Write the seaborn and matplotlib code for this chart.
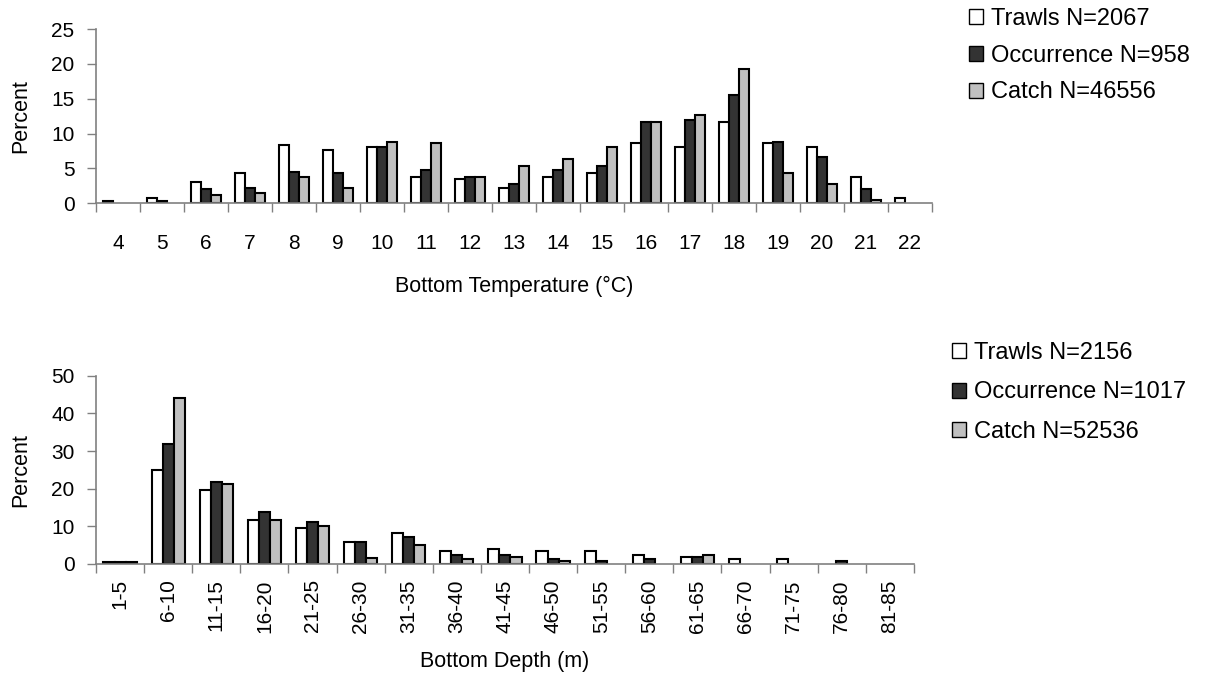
import pandas as pd
import numpy as np
import seaborn as sns
import matplotlib.pyplot as plt
from matplotlib.patches import Patch

# Temperature panel
temp_cats = ['4', '5', '6', '7', '8', '9', '10', '11', '12', '13', '14',
             '15', '16', '17', '18', '19', '20', '21', '22']
temp_trawls = [0.3, 0.8, 3.1, 4.3, 8.3, 7.7, 8.0, 3.7, 3.4, 2.2, 3.7,
               4.3, 8.6, 8.0, 11.7, 8.6, 8.0, 3.7, 0.8]
temp_occ = [0.0, 0.3, 2.0, 2.2, 4.5, 4.3, 8.0, 4.8, 3.7, 2.8, 4.8,
            5.4, 11.7, 12.0, 15.5, 8.85, 6.6, 2.0, 0.0]
temp_catch = [0.0, 0.0, 1.1, 1.4, 3.7, 2.2, 8.85, 8.6, 3.7, 5.4, 6.3,
              8.0, 11.7, 12.6, 19.2, 4.3, 2.8, 0.5, 0.0]
temp_labels = ['Trawls N=2067', 'Occurrence N=958', 'Catch N=46556']

# Depth panel
depth_cats = ['1-5', '6-10', '11-15', '16-20', '21-25', '26-30', '31-35',
              '36-40', '41-45', '46-50', '51-55', '56-60', '61-65',
              '66-70', '71-75', '76-80', '81-85']
depth_trawls = [0.5, 25.0, 19.7, 11.8, 9.6, 5.9, 8.1, 3.4, 3.9, 3.4, 3.4,
                2.3, 1.8, 1.2, 1.2, 0.0, 0.0]
depth_occ = [0.5, 31.9, 21.9, 13.9, 11.2, 5.9, 7.1, 2.3, 2.3, 1.2, 0.7,
             1.2, 1.8, 0.0, 0.0, 0.7, 0.0]
depth_catch = [0.5, 44.2, 21.3, 11.8, 10.2, 1.7, 5.0, 1.2, 1.8, 0.7, 0.0,
               0.0, 2.3, 0.0, 0.0, 0.0, 0.0]
depth_labels = ['Trawls N=2156', 'Occurrence N=1017', 'Catch N=52536']

colors = ['white', '#333333', '#c0c0c0']

sns.set_style('white')
plt.rcParams['font.family'] = ['Liberation Sans', 'DejaVu Sans']
plt.rcParams['text.color'] = 'black'
plt.rcParams['axes.labelcolor'] = 'black'
plt.rcParams['xtick.labelcolor'] = 'black'
plt.rcParams['ytick.labelcolor'] = 'black'


def long_df(cats, series, labels):
    rows = []
    for lab, vals in zip(labels, series):
        for c, v in zip(cats, vals):
            rows.append({'cat': c, 'series': lab, 'value': v})
    return pd.DataFrame(rows)


def draw(ax, df, cats, labels, ymax, ystep, xlabel, rotate):
    sns.barplot(data=df, x='cat', y='value', hue='series', order=cats,
                hue_order=labels, palette=dict(zip(labels, colors)),
                edgecolor='black', linewidth=1.5, width=0.69, gap=0,
                legend=False, ax=ax)
    # zero-height bars are not drawn in the original
    for p in ax.patches:
        if p.get_height() == 0:
            p.set_visible(False)
    n = len(cats)
    ax.set_xlim(-0.5, n - 0.5)
    ax.set_ylim(0, ymax)
    ax.set_yticks(np.arange(0, ymax + 1, ystep))
    ax.set_xticks(np.arange(n))
    ax.set_xticklabels(cats, rotation=90 if rotate else 0)
    ax.set_xticks(np.arange(n + 1) - 0.5, minor=True)
    ax.tick_params(axis='x', which='major', length=0, pad=22, labelsize=15,
                   labelcolor='black')
    ax.tick_params(axis='x', which='minor', length=6.5, width=1, color='#808080',
                   direction='out', bottom=True)
    ax.tick_params(axis='y', length=6.5, width=1, color='#808080',
                   direction='out', left=True, labelsize=15, pad=9,
                   labelcolor='black')
    for s in ['top', 'right']:
        ax.spines[s].set_visible(False)
    for s in ['left', 'bottom']:
        ax.spines[s].set_color('#808080')
        ax.spines[s].set_linewidth(1.2)
    ax.set_xlabel(xlabel, fontsize=15.5, labelpad=17, color='black')
    ax.set_ylabel('Percent', fontsize=15.5, labelpad=14, color='black')


fig = plt.figure(figsize=(12.08, 6.77), dpi=100)
ax1 = fig.add_axes([0.0795, 0.700, 0.692, 0.257])
ax2 = fig.add_axes([0.0795, 0.167, 0.677, 0.278])

df_t = long_df(temp_cats, [temp_trawls, temp_occ, temp_catch], temp_labels)
df_d = long_df(depth_cats, [depth_trawls, depth_occ, depth_catch], depth_labels)

draw(ax1, df_t, temp_cats, temp_labels, 25, 5, 'Bottom Temperature (°C)', False)
draw(ax2, df_d, depth_cats, depth_labels, 50, 10, 'Bottom Depth (m)', True)
ax2.tick_params(axis='x', which='major', pad=11)
ax2.xaxis.labelpad = 13

for labels, x, y, ls in [(temp_labels, 0.802, 0.988, 0.62),
                         (depth_labels, 0.788, 0.495, 0.74)]:
    handles = [Patch(facecolor=c, edgecolor='black', linewidth=1.0) for c in colors]
    fig.legend(handles, labels, loc='upper left', bbox_to_anchor=(x, y),
               frameon=False, fontsize=17, handlelength=0.6, handleheight=0.6,
               handletextpad=0.35, labelspacing=ls, borderaxespad=0,
               borderpad=0, labelcolor='black')

fig.savefig('out.png', dpi=100)
